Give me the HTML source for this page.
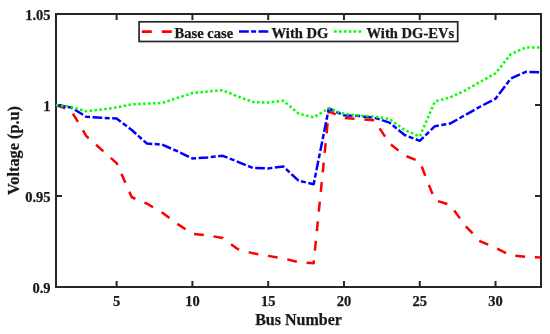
<!DOCTYPE html>
<html><head><meta charset="utf-8"><style>
html,body{margin:0;padding:0;background:#fff;width:550px;height:334px;overflow:hidden}
svg{display:block}
text{font-family:"Liberation Serif","Times New Roman",serif;font-weight:bold;fill:#1a1a1a;stroke:#1a1a1a;stroke-width:0.25px}
</style></head><body>
<svg width="550" height="334" viewBox="0 0 550 334">
<rect width="550" height="334" fill="#fff"/>

<g stroke="#262626" stroke-width="2" fill="none">
<rect x="56.0" y="14.0" width="485.0" height="273.0"/>
<line x1="116.62" y1="287.0" x2="116.62" y2="281.0"/><line x1="116.62" y1="14.0" x2="116.62" y2="20.0"/><line x1="192.41" y1="287.0" x2="192.41" y2="281.0"/><line x1="192.41" y1="14.0" x2="192.41" y2="20.0"/><line x1="268.19" y1="287.0" x2="268.19" y2="281.0"/><line x1="268.19" y1="14.0" x2="268.19" y2="20.0"/><line x1="343.97" y1="287.0" x2="343.97" y2="281.0"/><line x1="343.97" y1="14.0" x2="343.97" y2="20.0"/><line x1="419.75" y1="287.0" x2="419.75" y2="281.0"/><line x1="419.75" y1="14.0" x2="419.75" y2="20.0"/><line x1="495.53" y1="287.0" x2="495.53" y2="281.0"/><line x1="495.53" y1="14.0" x2="495.53" y2="20.0"/><line x1="56.0" y1="105.00" x2="62.0" y2="105.00"/><line x1="541.0" y1="105.00" x2="535.0" y2="105.00"/><line x1="56.0" y1="196.00" x2="62.0" y2="196.00"/><line x1="541.0" y1="196.00" x2="535.0" y2="196.00"/>
</g>
<g fill="none" stroke-width="2.5" stroke-linejoin="round">
<polyline points="56.00,105.00 71.16,110.46 86.31,136.12 101.47,149.59 116.62,163.06 131.78,197.25 146.94,203.62 162.09,212.53 177.25,223.82 192.41,233.86 207.56,235.31 222.72,238.04 237.88,249.14 253.03,253.33 268.19,255.88 283.34,258.43 298.50,262.07 313.66,263.16 328.81,111.37 343.97,117.92 359.12,119.20 374.28,120.29 389.44,143.29 404.59,155.49 419.75,161.49 434.91,200.19 450.06,204.74 465.22,225.67 480.38,241.29 495.53,247.84 510.69,255.30 525.84,256.94 541.00,257.49" stroke="#ff0000" stroke-dasharray="9.83 9.83"/>
<polyline points="56.00,105.00 71.16,107.40 86.31,116.80 101.47,117.80 116.62,118.50 131.78,130.00 146.94,143.60 162.09,144.60 177.25,151.20 192.41,158.40 207.56,157.40 222.72,155.80 237.88,161.80 253.03,168.00 268.19,168.40 283.34,166.50 298.50,180.70 313.66,184.20 328.81,108.40 343.97,115.30 359.12,116.00 374.28,117.70 389.44,122.60 404.59,135.00 419.75,140.80 434.91,126.20 450.06,123.60 465.22,115.00 480.38,106.50 495.53,98.70 510.69,78.70 525.84,71.80 541.00,72.20" stroke="#0000ff" stroke-dasharray="9.7 2.5 5 2.5"/>
<polyline points="56.00,105.00 71.16,107.00 86.31,111.30 101.47,109.50 116.62,107.50 131.78,104.40 146.94,103.60 162.09,103.00 177.25,98.00 192.41,93.00 207.56,91.40 222.72,90.30 237.88,96.50 253.03,102.00 268.19,102.50 283.34,100.80 298.50,113.50 313.66,117.40 328.81,108.30 343.97,113.80 359.12,115.60 374.28,116.50 389.44,119.00 404.59,130.00 419.75,136.50 434.91,101.50 450.06,97.50 465.22,90.30 480.38,81.80 495.53,73.30 510.69,54.30 525.84,47.40 541.00,47.40" stroke="#00ff00" stroke-dasharray="2.5 2.412"/>
</g>
<g font-size="14.5"><text x="116.62" y="306.4" text-anchor="middle">5</text><text x="192.41" y="306.4" text-anchor="middle">10</text><text x="268.19" y="306.4" text-anchor="middle">15</text><text x="343.97" y="306.4" text-anchor="middle">20</text><text x="419.75" y="306.4" text-anchor="middle">25</text><text x="495.53" y="306.4" text-anchor="middle">30</text><text x="50.5" y="19.80" text-anchor="end">1.05</text><text x="50.5" y="110.80" text-anchor="end">1</text><text x="50.5" y="201.80" text-anchor="end">0.95</text><text x="50.5" y="292.80" text-anchor="end">0.9</text></g>
<text x="298.5" y="325" text-anchor="middle" font-size="16">Bus Number</text>
<text transform="translate(18.6,150.5) rotate(-90)" text-anchor="middle" font-size="16.3">Voltage (p.u)</text>
<rect x="139.1" y="21.8" width="318.6" height="19.7" fill="#fff" stroke="#262626" stroke-width="1.7"/>
<g fill="none" stroke-width="2.6">
<line x1="141.8" y1="31.6" x2="171.8" y2="31.6" stroke="#ff0000" stroke-dasharray="10 10"/>
<line x1="239" y1="31.5" x2="268.5" y2="31.5" stroke="#0000ff" stroke-dasharray="9.8 2.3 5 2.4"/>
<line x1="334" y1="31.5" x2="362" y2="31.5" stroke="#00ff00" stroke-dasharray="2.7 2.2"/>
</g>
<g font-size="14.6">
<text x="174.5" y="37.5">Base case</text>
<text x="271.5" y="37.5">With DG</text>
<text x="366.5" y="37.5">With DG-EVs</text>
</g>
</svg>
</body></html>
